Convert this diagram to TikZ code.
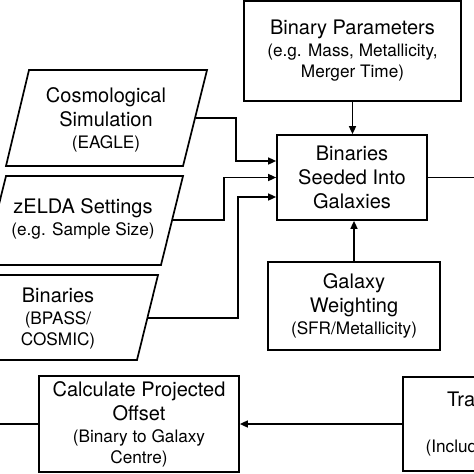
\documentclass[tikz,border=0pt]{standalone}
\usepackage{fontspec}
\setmainfont{TeX Gyre Heros}
\usetikzlibrary{arrows.meta,calc}
\newcommand{\mainf}{\fontsize{20}{24}\selectfont}
\newcommand{\subf}{\fontsize{17.2}{20}\selectfont}
\begin{document}
\begin{tikzpicture}[x=1pt,y=-1pt,
  box/.style={draw, line width=1.7pt, align=center, inner sep=0pt, font=\mainf},
  para/.style={draw, line width=1.7pt},
  lbl/.style={align=center, inner sep=0pt, font=\mainf},
  con/.style={line width=1.5pt},
  arr/.style={con, -{Triangle[length=8pt,width=7pt]}}]
\useasboundingbox (0,0) rectangle (474,474);
\clip (0,0) rectangle (474,474);
\fill[white] (0,0) rectangle (474,474);

% parallelograms
\draw[para] (29,70) -- (207,70) -- (183,166) -- (6,166) -- cycle;
\draw[para] (6,176) -- (183,176) -- (161,265) -- (-16,265) -- cycle;
\draw[para] (-20,275) -- (158,275) -- (137,360) -- (-41,360) -- cycle;
\node[lbl] (cosmo) at (106,120) {Cosmological\\Simulation\\[-2pt]{\subf (EAGLE)}};
\node[lbl] (zelda) at (83,219) {zELDA Settings\\[-2pt]{\subf (e.g. Sample Size)}};
\node[lbl] (bin) at (58,319) {Binaries\\[-2pt]{\subf (BPASS/}\\[-3pt]{\subf COSMIC)}};
\coordinate (cosmoR) at (195.5,118);
\coordinate (zeldaR) at (172,220);
\coordinate (binR) at (147.5,318);

% boxes
\node[box, minimum width=217pt, minimum height=100pt] (params) at (352.5,51)
  {Binary Parameters\\[-2pt]{\subf (e.g. Mass, Metallicity,}\\[-3pt]{\subf Merger Time)}};
\node[box, minimum width=150pt, minimum height=85pt] (seed) at (352,177.5)
  {Binaries\\Seeded Into\\Galaxies};
\node[box, minimum width=172pt, minimum height=88pt] (galaxy) at (354,306)
  {Galaxy\\Weighting\\[-2pt]{\subf (SFR/Metallicity)}};
\node[box, minimum width=200pt, minimum height=96pt] (calc) at (139,424)
  {Calculate Projected\\Offset\\[-2pt]{\subf (Binary to Galaxy}\\[-3pt]{\subf Centre)}};
\node[box, minimum width=200pt, minimum height=94pt] (trans) at (503,424)
  {Trace Binary\\Orbits\\[-2pt]{\subf (Including SN Kicks)}};

% connectors
\coordinate (k1) at (236,118);
\coordinate (k2) at (224,220);
\coordinate (k3) at (238,318);
\draw[arr] (cosmoR) -- (k1) |- ([yshift=16.5pt]seed.west);
\draw[arr] (zeldaR) -- (k2) |- (seed.west);
\draw[arr] (binR) -- (k3) |- ([yshift=-19.5pt]seed.west);
\draw[arr] (params.south) -- (params.south |- seed.north);
\draw[arr] (galaxy.north) -- (galaxy.north |- seed.south);
\coordinate (seedOut) at (480,177.5);
\draw[con] (seed.east) -- (seedOut);
\draw[arr] (trans.west) -- (calc.east);
\coordinate (calcOut) at (-6,424);
\draw[con] (calc.west) -- (calcOut);
\end{tikzpicture}
\end{document}
